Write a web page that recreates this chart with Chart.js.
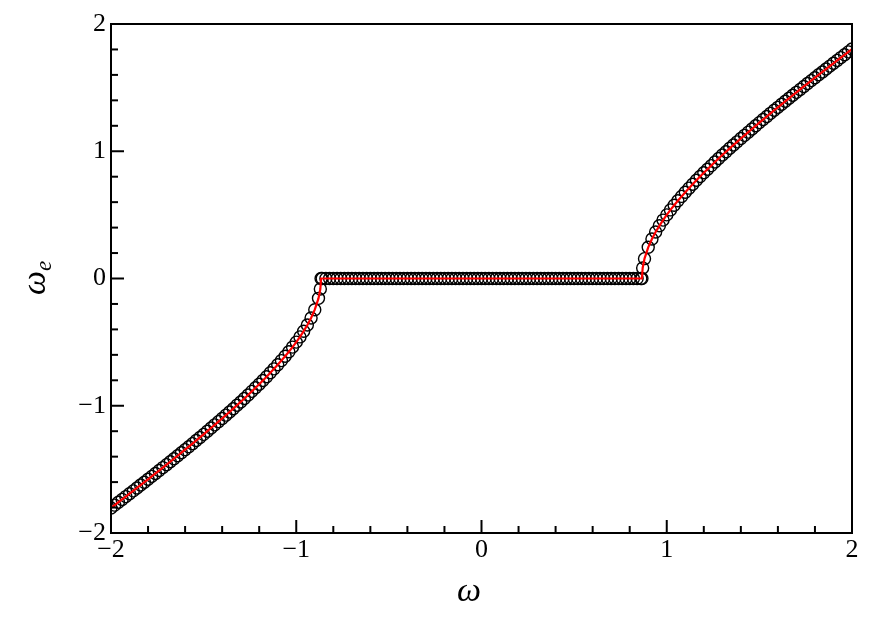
<!DOCTYPE html>
<html>
<head>
<meta charset="utf-8">
<script src="https://cdn.jsdelivr.net/npm/chart.js@4.4.1/dist/chart.umd.min.js"></script>
<style>
  body { margin: 0; background: #fff; }
</style>
</head>
<body>
<canvas id="plot" width="871" height="617"></canvas>
<script>
// negative branch (omega < -omega0)
var leftOmega = [
  -2.00, -1.98, -1.96, -1.94, -1.92, -1.90, -1.88, -1.86, -1.84, -1.82,
  -1.80, -1.78, -1.76, -1.74, -1.72, -1.70, -1.68, -1.66, -1.64, -1.62,
  -1.60, -1.58, -1.56, -1.54, -1.52, -1.50, -1.48, -1.46, -1.44, -1.42,
  -1.40, -1.38, -1.36, -1.34, -1.32, -1.30, -1.28, -1.26, -1.24, -1.22,
  -1.20, -1.18, -1.16, -1.14, -1.12, -1.10, -1.08, -1.06, -1.04, -1.02,
  -1.00, -0.98, -0.96, -0.94, -0.92, -0.90, -0.88, -0.87
];
var leftOmegaE = [
  -1.803, -1.781, -1.758, -1.736, -1.714, -1.691, -1.669, -1.646, -1.623, -1.601,
  -1.578, -1.555, -1.532, -1.509, -1.486, -1.463, -1.440, -1.416, -1.393, -1.369,
  -1.345, -1.322, -1.298, -1.273, -1.249, -1.225, -1.200, -1.175, -1.150, -1.125,
  -1.100, -1.074, -1.049, -1.023, -0.996, -0.970, -0.943, -0.915, -0.887, -0.859,
  -0.831, -0.801, -0.772, -0.741, -0.710, -0.678, -0.645, -0.611, -0.576, -0.539,
  -0.500, -0.459, -0.414, -0.366, -0.310, -0.245, -0.156, -0.083
];

// plateau
var midOmega = [
  -0.866, -0.86, -0.84, -0.82, -0.80, -0.78, -0.76, -0.74, -0.72, -0.70,
  -0.68, -0.66, -0.64, -0.62, -0.60, -0.58, -0.56, -0.54, -0.52, -0.50,
  -0.48, -0.46, -0.44, -0.42, -0.40, -0.38, -0.36, -0.34, -0.32, -0.30,
  -0.28, -0.26, -0.24, -0.22, -0.20, -0.18, -0.16, -0.14, -0.12, -0.10,
  -0.08, -0.06, -0.04, -0.02, 0.00, 0.02, 0.04, 0.06, 0.08, 0.10,
  0.12, 0.14, 0.16, 0.18, 0.20, 0.22, 0.24, 0.26, 0.28, 0.30,
  0.32, 0.34, 0.36, 0.38, 0.40, 0.42, 0.44, 0.46, 0.48, 0.50,
  0.52, 0.54, 0.56, 0.58, 0.60, 0.62, 0.64, 0.66, 0.68, 0.70,
  0.72, 0.74, 0.76, 0.78, 0.80, 0.82, 0.84, 0.86, 0.866
];
var midOmegaE = [
  0, 0, 0, 0, 0, 0, 0, 0, 0, 0,
  0, 0, 0, 0, 0, 0, 0, 0, 0, 0,
  0, 0, 0, 0, 0, 0, 0, 0, 0, 0,
  0, 0, 0, 0, 0, 0, 0, 0, 0, 0,
  0, 0, 0, 0, 0, 0, 0, 0, 0, 0,
  0, 0, 0, 0, 0, 0, 0, 0, 0, 0,
  0, 0, 0, 0, 0, 0, 0, 0, 0, 0,
  0, 0, 0, 0, 0, 0, 0, 0, 0, 0,
  0, 0, 0, 0, 0, 0, 0, 0, 0
];

// positive branch (omega > omega0)
var rightOmega = [
  0.87, 0.88, 0.90, 0.92, 0.94, 0.96, 0.98, 1.00, 1.02, 1.04,
  1.06, 1.08, 1.10, 1.12, 1.14, 1.16, 1.18, 1.20, 1.22, 1.24,
  1.26, 1.28, 1.30, 1.32, 1.34, 1.36, 1.38, 1.40, 1.42, 1.44,
  1.46, 1.48, 1.50, 1.52, 1.54, 1.56, 1.58, 1.60, 1.62, 1.64,
  1.66, 1.68, 1.70, 1.72, 1.74, 1.76, 1.78, 1.80, 1.82, 1.84,
  1.86, 1.88, 1.90, 1.92, 1.94, 1.96, 1.98, 2.00
];
var rightOmegaE = [
  0.083, 0.156, 0.245, 0.310, 0.366, 0.414, 0.459, 0.500, 0.539, 0.576,
  0.611, 0.645, 0.678, 0.710, 0.741, 0.772, 0.801, 0.831, 0.859, 0.887,
  0.915, 0.943, 0.970, 0.996, 1.023, 1.049, 1.074, 1.100, 1.125, 1.150,
  1.175, 1.200, 1.225, 1.249, 1.273, 1.298, 1.322, 1.345, 1.369, 1.393,
  1.416, 1.440, 1.463, 1.486, 1.509, 1.532, 1.555, 1.578, 1.601, 1.623,
  1.646, 1.669, 1.691, 1.714, 1.736, 1.758, 1.781, 1.803
];

var serif = "'Liberation Serif', 'DejaVu Serif', serif";

function toPoints(xs, ys) {
  var out = [];
  for (var i = 0; i < xs.length; i++) out.push({x: xs[i], y: ys[i]});
  return out;
}
var points = toPoints(leftOmega, leftOmegaE)
  .concat(toPoints(midOmega, midOmegaE))
  .concat(toPoints(rightOmega, rightOmegaE));

function isMajor(v) { return Math.abs(v - Math.round(v)) < 1e-6; }
function tickLabel(v) {
  if (!isMajor(v)) return '';
  var r = Math.round(v);
  return r < 0 ? '\u2212' + (-r) : String(r);
}

// frame, inward ticks and axis titles
var axesDecor = {
  id: 'axesDecor',
  afterDraw: function(chart) {
    var c = chart.ctx, a = chart.chartArea;
    var xs = chart.scales.x, ys = chart.scales.y;
    c.save();
    c.strokeStyle = '#000';
    c.lineWidth = 2;
    c.strokeRect(a.left, a.top, a.right - a.left, a.bottom - a.top);
    xs.ticks.forEach(function(t) {
      var px = xs.getPixelForValue(t.value);
      var len = isMajor(t.value) ? 13 : 7;
      c.beginPath(); c.moveTo(px, a.bottom); c.lineTo(px, a.bottom - len); c.stroke();
    });
    ys.ticks.forEach(function(t) {
      var py = ys.getPixelForValue(t.value);
      var len = isMajor(t.value) ? 13 : 7;
      c.beginPath(); c.moveTo(a.left, py); c.lineTo(a.left + len, py); c.stroke();
    });

    c.fillStyle = '#000';
    c.textBaseline = 'alphabetic';
    c.textAlign = 'center';
    c.font = 'italic 34px ' + serif;
    c.fillText('\u03c9', 469, 601);

    // y title: omega with subscript e, rotated
    c.translate(45, 278);
    c.rotate(-Math.PI / 2);
    c.textAlign = 'left';
    c.font = 'italic 34px ' + serif;
    var wW = c.measureText('\u03c9').width;
    c.font = 'italic 23px ' + serif;
    var eW = c.measureText('e').width;
    var x0 = -(wW + eW) / 2;
    c.font = 'italic 34px ' + serif;
    c.fillText('\u03c9', x0, 0);
    c.font = 'italic 23px ' + serif;
    c.fillText('e', x0 + wW, 6);
    c.restore();
  }
};

function draw() {
  var ctx = document.getElementById('plot').getContext('2d');
  new Chart(ctx, {
    type: 'scatter',
    data: {
      datasets: [{
        label: 'fit',
        data: points,
        showLine: true,
        borderColor: '#ff0000',
        borderWidth: 2.2,
        pointRadius: 0,
        fill: false,
        order: 0,
        clip: 0
      }, {
        label: 'data',
        data: points,
        showLine: false,
        pointStyle: 'circle',
        pointRadius: 6,
        pointBorderWidth: 1.4,
        borderColor: '#000',
        backgroundColor: 'rgba(0,0,0,0)',
        order: 1,
        clip: 0
      }]
    },
    options: {
      responsive: false,
      animation: false,
      devicePixelRatio: 1,
      layout: { padding: { top: 24, right: 19, left: 0, bottom: 0 } },
      plugins: { legend: { display: false }, tooltip: { enabled: false } },
      scales: {
        x: {
          type: 'linear', min: -2, max: 2,
          ticks: {
            stepSize: 0.2, autoSkip: false, maxRotation: 0, padding: 2,
            color: '#000', font: { family: serif, size: 26 }, callback: tickLabel
          },
          grid: { display: false, drawTicks: false },
          border: { display: false },
          afterFit: function(s) { s.height = 84; }
        },
        y: {
          type: 'linear', min: -2, max: 2,
          ticks: {
            stepSize: 0.2, autoSkip: false, padding: 5,
            color: '#000', font: { family: serif, size: 26 }, callback: tickLabel
          },
          grid: { display: false, drawTicks: false },
          border: { display: false },
          afterFit: function(s) { s.width = 111; }
        }
      }
    },
    plugins: [axesDecor]
  });
}

if (document.fonts && document.fonts.load) {
  Promise.all([
    document.fonts.load("26px 'Liberation Serif'"),
    document.fonts.load("italic 34px 'Liberation Serif'")
  ]).then(draw, draw);
} else {
  draw();
}
</script>
</body>
</html>
